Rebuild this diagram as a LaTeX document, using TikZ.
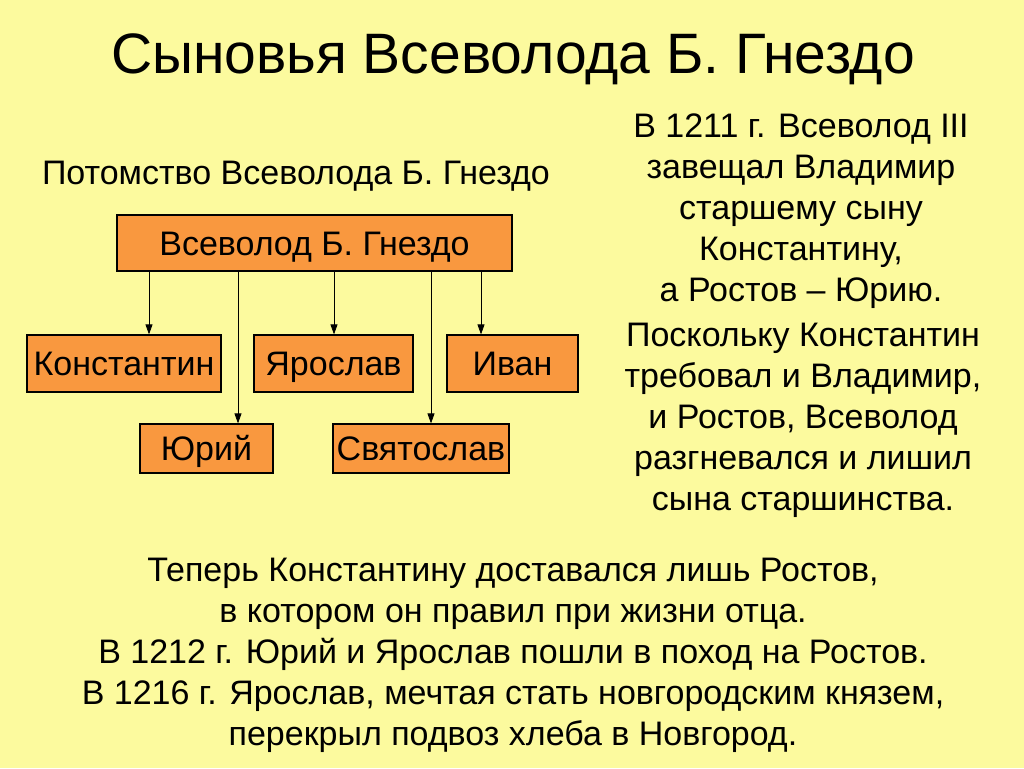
\documentclass[tikz,border=0pt]{standalone}
\usepackage{fontspec}
\setmainfont{Liberation Sans}
\usetikzlibrary{arrows.meta}
\definecolor{slidebg}{HTML}{FCFA9E}
\definecolor{boxfill}{HTML}{F9983F}

\begin{document}
\begin{tikzpicture}[x=1pt,y=-1pt,
  son/.style={draw=black, line width=1.2pt, fill=boxfill, inner sep=0pt, text height=24pt, text depth=0pt, font=\fontsize{34}{41}\selectfont},
  txt/.style={align=center, inner sep=0pt, anchor=north, font=\fontsize{34}{41}\selectfont},
  arr/.style={-{Triangle[length=10pt,width=7pt]}, line width=0.8pt}]
\fill [slidebg] (0,0) rectangle (1024,768);
\useasboundingbox (0,0) rectangle (1024,768);

\node [txt, font=\fontsize{57}{68}\selectfont] (title) at (513,33) {Сыновья Всеволода Б. Гнездо};
\node [txt] (subtitle) at (296,161) {Потомство Всеволода Б. Гнездо};

\node [txt] (will) at (801,114) {В 1211 г. Всеволод III\\завещал Владимир\\старшему сыну\\Константину,\\а Ростов – Юрию.};
\node [txt] (anger) at (803,323) {Поскольку Константин\\требовал и Владимир,\\и Ростов, Всеволод\\разгневался и лишил\\сына старшинства.};
\node [txt] (after) at (513,558) {Теперь Константину доставался лишь Ростов,\\в котором он правил при жизни отца.\\В 1212 г. Юрий и Ярослав пошли в поход на Ростов.\\В 1216 г. Ярослав, мечтая стать новгородским князем,\\перекрыл подвоз хлеба в Новгород.};

\node [son, minimum width=395pt, minimum height=56pt] (vsevolod) at (314.5,243) {Всеволод Б. Гнездо};
\node [son, minimum width=194pt, minimum height=57pt] (konstantin) at (124,363.5) {Константин};
\node [son, minimum width=159pt, minimum height=57pt] (yaroslav) at (333.5,363.5) {Ярослав};
\node [son, minimum width=131pt, minimum height=57pt] (ivan) at (512.5,363.5) {Иван};
\node [son, minimum width=133pt, minimum height=49pt] (yuri) at (206.5,448.5) {Юрий};
\node [son, minimum width=176pt, minimum height=49pt] (svyatoslav) at (421,448.5) {Святослав};

\coordinate (k) at (149,0);
\coordinate (u) at (238,0);
\coordinate (y) at (334,0);
\coordinate (s) at (431,0);
\coordinate (i) at (481,0);

\draw [arr] (vsevolod.south -| k) -- (konstantin.north -| k);
\draw [arr] (vsevolod.south -| u) -- (yuri.north -| u);
\draw [arr] (vsevolod.south -| y) -- (yaroslav.north -| y);
\draw [arr] (vsevolod.south -| s) -- (svyatoslav.north -| s);
\draw [arr] (vsevolod.south -| i) -- (ivan.north -| i);
\end{tikzpicture}
\end{document}
